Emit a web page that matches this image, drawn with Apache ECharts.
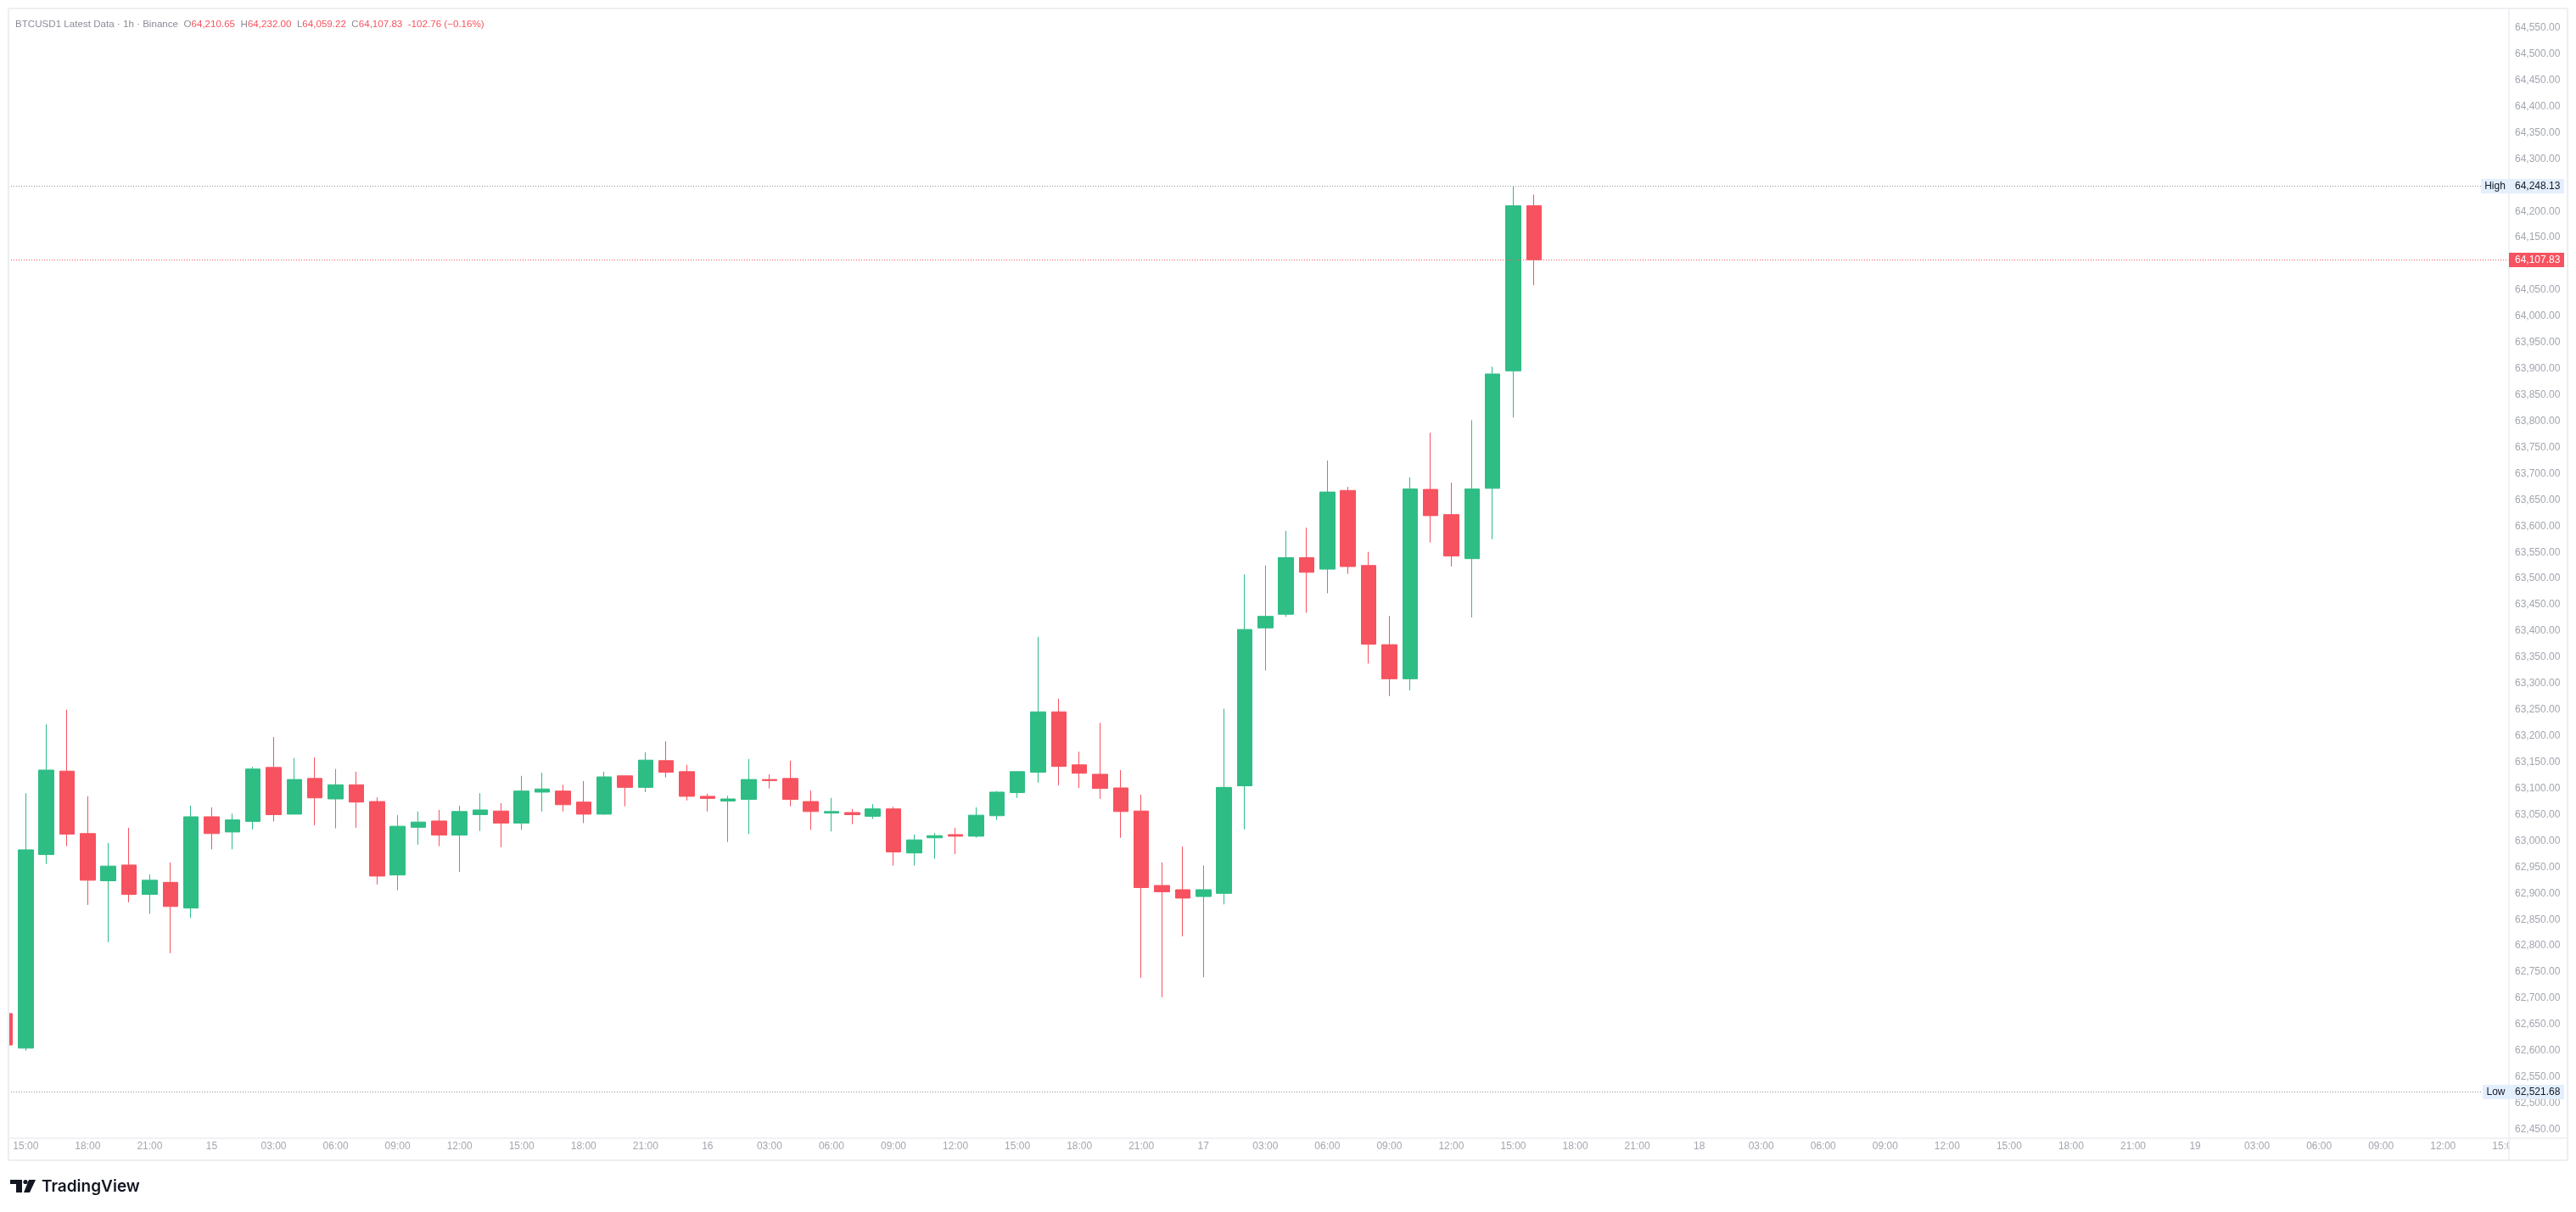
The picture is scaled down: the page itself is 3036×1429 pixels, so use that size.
<!DOCTYPE html>
<html>
<head>
<meta charset="utf-8">
<script src="https://cdn.jsdelivr.net/npm/echarts@6/dist/echarts.min.js"></script>
<style>
html,body{margin:0;padding:0;background:#ffffff;}
#c{width:3036px;height:1429px;}
</style>
</head>
<body>
<div id="c"></div>
<script>
// ---------------- DATA ----------------
const symbolName = 'BTCUSD1 Latest Data · 1h · Binance';
// hour offset (from day 14, 15:00) of the first candle
const firstHourOffset = -1;
const opens = [
  62671, 62605, 62974, 63133, 63014, 62924, 62954, 62898, 62921, 62872,
  63046, 63017, 63037, 63140, 63051, 63119, 63080, 63107, 63075, 62935,
  63026, 63038, 63011, 63050, 63057, 63034, 63093, 63095, 63074, 63051,
  63124, 63102, 63153, 63132, 63085, 63076, 63079, 63117, 63119, 63075,
  63053, 63054, 63047, 63061, 62977, 63006, 63012, 63009, 63048, 63092,
  63131, 63246, 63145, 63127, 63101, 63057, 62915, 62907, 62894, 62900,
  63105, 63406, 63432, 63540, 63518, 63668, 63525, 63374, 63309, 63670,
  63622, 63538, 63672, 63896, 64210.65
];
const closes = [
  62611, 62983, 63135, 63013, 62925, 62952, 62898, 62925, 62875, 63046,
  63014, 63040, 63137, 63050, 63117, 63082, 63107, 63074, 62933, 63028,
  63036, 63011, 63056, 63059, 63034, 63095, 63099, 63069, 63051, 63122,
  63102, 63154, 63131, 63085, 63081, 63080, 63117, 63115, 63079, 63056,
  63056, 63050, 63061, 62979, 63002, 63010, 63009, 63049, 63093, 63132,
  63246, 63142, 63129, 63100, 63056, 62911, 62903, 62891, 62907, 63102,
  63403, 63428, 63540, 63512, 63665, 63523, 63375, 63309, 63671, 63620,
  63543, 63671, 63890, 64210.59, 64107.83
];
const lows = [
  62521.68, 62600, 62956, 62990, 62878, 62807, 62883, 62861, 62786, 62853,
  62984, 62984, 63022, 63037, 63051, 63030, 63024, 63025, 62917, 62906,
  62993, 62990, 62941, 63019, 62988, 63021, 63056, 63056, 63034, 63050,
  63066, 63093, 63121, 63077, 63056, 62998, 63013, 63100, 63066, 63021,
  63018, 63032, 63042, 62953, 62953, 62966, 62975, 63006, 63040, 63082,
  63111, 63106, 63101, 63080, 63006, 62739, 62702, 62818, 62740, 62879,
  63022, 63325, 63427, 63435, 63472, 63509, 63338, 63276, 63287, 63569,
  63523, 63426, 63575, 63807, 64059.22
];
const highs = [
  62690, 63091, 63222, 63250, 63085, 62996, 63025, 62936, 62959, 63067,
  63064, 63052, 63141, 63198, 63158, 63159, 63137, 63132, 63083, 63049,
  63056, 63059, 63067, 63091, 63072, 63124, 63130, 63107, 63114, 63132,
  63125, 63169, 63190, 63145, 63090, 63086, 63156, 63127, 63153, 63096,
  63082, 63061, 63070, 63065, 63012, 63015, 63025, 63064, 63095, 63133,
  63389, 63271, 63170, 63225, 63135, 63088, 62959, 62989, 62953, 63252,
  63508, 63525, 63591, 63597, 63725, 63675, 63551, 63429, 63693, 63778,
  63683, 63802, 63904, 64248.13, 64232.00
];
const yTickMin = 62400, yTickMax = 64600, yTickStep = 50;
// x tick positions (hours after day 14, 15:00): every 3 hours
const xTickHours = [0, 3, 6, 9, 12, 15, 18, 21, 24, 27, 30, 33, 36, 39, 42, 45, 48, 51, 54, 57,
  60, 63, 66, 69, 72, 75, 78, 81, 84, 87, 90, 93, 96, 99, 102, 105, 108, 111, 114, 117, 120];
const startDay = 14, startHour = 15;

// ---------------- LAYOUT ----------------
const W = 3036, H = 1429;
const X0 = 30.3, STEP = 24.35;          // pixel of hour 0, pixels per hour
const PANE_L = 10, PANE_T = 10, PANE_R = 3026, PANE_B = 1368;
const AXIS_X = 2957, AXIS_Y = 1342;
const Y_TOP_PX = 1.77, Y_BOT_PX = 1362.6; // pixels of yTickMax / yTickMin
const FONT = '"Liberation Sans", Arial, sans-serif';
const UP = '#2ebd85', DOWN = '#f7525f';
const LABEL_GRAY = '#a3a6af';

const xMin = (PANE_L - X0) / STEP;
const xMax = (AXIS_X - X0) / STEP;

function pad(n){ return (n < 10 ? '0' : '') + n; }
const times = opens.map((_, i) => {
  const t = startHour + firstHourOffset + i;
  return (startDay + Math.floor(t / 24)) + ' ' + pad(((t % 24) + 24) % 24) + ':00';
});
const candleData = opens.map((o, i) => ({
  name: times[i],
  value: [firstHourOffset + i, o, closes[i], lows[i], highs[i]]
}));

const fmt = v => v.toLocaleString('en-US', {minimumFractionDigits: 2, maximumFractionDigits: 2});
const last = opens.length - 1;
const chg = closes[last] - closes[last - 1];
const pct = chg / closes[last - 1] * 100;
const chgText = (chg < 0 ? '-' : '+') + Math.abs(chg).toFixed(2) + ' (' + (pct < 0 ? '\u2212' : '+') + Math.abs(pct).toFixed(2) + '%)';

const highMark = Math.max(...highs);
const lowMark = Math.min(...lows);
const closeMark = closes[last];

const headerText =
  '{g|' + symbolName + '}  ' +
  '{g|O}{r|' + fmt(opens[last]) + '}  ' +
  '{g|H}{r|' + fmt(highs[last]) + '}  ' +
  '{g|L}{r|' + fmt(lows[last]) + '}  ' +
  '{g|C}{r|' + fmt(closes[last]) + '}  ' +
  '{r|' + chgText + '}';

const HDR_SIZE = 11.6;
const option = {
  animation: false,
  backgroundColor: '#ffffff',
  title: {
    left: 13, top: 18, text: headerText,
    textStyle: {
      fontSize: HDR_SIZE, fontFamily: FONT, fontWeight: 'normal', color: '#8a8d96',
      rich: {
        g: {color: '#8a8d96', fontSize: HDR_SIZE, fontFamily: FONT},
        r: {color: DOWN, fontSize: HDR_SIZE, fontFamily: FONT}
      }
    }
  },
  grid: {
    left: PANE_L, right: W - AXIS_X, top: Y_TOP_PX, bottom: H - Y_BOT_PX,
    containLabel: false
  },
  xAxis: {
    type: 'value', min: xMin, max: xMax,
    offset: AXIS_Y - Y_BOT_PX,
    axisLine: {show: false}, axisTick: {show: false}, splitLine: {show: false},
    axisLabel: {
      show: true, margin: 4, color: LABEL_GRAY, fontSize: 12, fontFamily: FONT,
      customValues: xTickHours,
      formatter: function (v) {
        if (Math.abs(v - Math.round(v)) > 1e-6) return '';
        const t = startHour + Math.round(v);
        const hod = ((t % 24) + 24) % 24;
        const day = startDay + Math.floor(t / 24);
        return hod === 0 ? String(day) : pad(hod) + ':00';
      }
    }
  },
  yAxis: {
    type: 'value', position: 'right', min: yTickMin, max: yTickMax, interval: yTickStep,
    scale: true,
    axisLine: {show: false}, axisTick: {show: false}, splitLine: {show: false},
    axisLabel: {
      margin: 7, color: LABEL_GRAY, fontSize: 12, fontFamily: FONT,
      formatter: function (v) {
        if (v <= yTickMin || v >= yTickMax) return '';
        return fmt(v);
      }
    }
  },
  series: [{
    type: 'candlestick',
    data: candleData,
    barWidth: 18,
    clip: true,
    itemStyle: {
      color: UP, color0: DOWN, borderColor: UP, borderColor0: DOWN, borderWidth: 1
    },
    markLine: {
      silent: true, symbol: ['none', 'none'], animation: false,
      label: {show: false},
      data: [
        {yAxis: highMark, lineStyle: {color: '#8f929b', type: [1, 2], width: 1}},
        {yAxis: closeMark, lineStyle: {color: DOWN, type: [1, 2], width: 1}},
        {yAxis: lowMark, lineStyle: {color: '#8f929b', type: [1, 2], width: 1}}
      ]
    }
  }]
};

const chart = echarts.init(document.getElementById('c'), null, {renderer: 'canvas'});
chart.setOption(option);

const yHigh = chart.convertToPixel({yAxisIndex: 0}, highMark);
const yClose = chart.convertToPixel({yAxisIndex: 0}, closeMark);
const yLow = chart.convertToPixel({yAxisIndex: 0}, lowMark);

const BOX_H = 17;
function box(x, yc, w, fill) {
  return {type: 'rect', z: 120, shape: {x: x, y: Math.round(yc - BOX_H / 2), width: w, height: BOX_H}, style: {fill: fill}, silent: true};
}
function txt(x, yc, s, color, align) {
  return {type: 'text', z: 121, x: x, y: yc, silent: true,
    style: {text: s, fill: color, font: '12px ' + FONT, textAlign: align || 'left', textVerticalAlign: 'middle', verticalAlign: 'middle'}};
}
function line(x1, y1, x2, y2, color, w) {
  return {type: 'line', z: 110, silent: true, shape: {x1: x1, y1: y1, x2: x2, y2: y2}, style: {stroke: color, lineWidth: w}};
}
const TAG_BG = '#e3effd';
const FRAME = '#eceef2';

const graphics = [
  // cover left of pane and overflow of the last x label
  {type: 'rect', z: 105, silent: true, shape: {x: 0, y: 0, width: PANE_L, height: H}, style: {fill: '#ffffff'}},
  {type: 'rect', z: 105, silent: true, shape: {x: AXIS_X + 1, y: AXIS_Y + 1, width: PANE_R - AXIS_X - 2, height: PANE_B - AXIS_Y - 2}, style: {fill: '#ffffff'}},
  // frame
  line(PANE_L, PANE_T, PANE_R, PANE_T, FRAME, 2),
  line(PANE_L, PANE_T, PANE_L, PANE_B, FRAME, 2),
  line(PANE_R, PANE_T, PANE_R, PANE_B, FRAME, 2),
  line(PANE_L, PANE_B, PANE_R, PANE_B, FRAME, 2),
  line(AXIS_X, PANE_T, AXIS_X, PANE_B, FRAME, 1.5),
  line(PANE_L, AXIS_Y, PANE_R, AXIS_Y, FRAME, 1.5),
  // High tag
  box(2924, yHigh, 33, TAG_BG), txt(2940.5, yHigh, 'High', '#131722', 'center'),
  box(AXIS_X, yHigh, 65, TAG_BG), txt(2964, yHigh, fmt(highMark), '#131722'),
  // Close tag
  box(AXIS_X, yClose, 65, DOWN), txt(2964, yClose, fmt(closeMark), '#ffffff'),
  // Low tag
  box(2926, yLow, 31, TAG_BG), txt(2941.5, yLow, 'Low', '#131722', 'center'),
  box(AXIS_X, yLow, 65, TAG_BG), txt(2964, yLow, fmt(lowMark), '#131722'),
  // TradingView logo
  {type: 'rect', z: 120, silent: true, shape: {x: 12, y: 1391, width: 14, height: 5}, style: {fill: '#131722'}},
  {type: 'rect', z: 120, silent: true, shape: {x: 19, y: 1391, width: 7, height: 15}, style: {fill: '#131722'}},
  {type: 'circle', z: 120, silent: true, shape: {cx: 30, cy: 1393.5, r: 2.6}, style: {fill: '#131722'}},
  {type: 'polygon', z: 120, silent: true, shape: {points: [[34, 1391], [42, 1391], [35, 1406], [28, 1406]]}, style: {fill: '#131722'}},
  {type: 'text', z: 120, silent: true, x: 49, y: 1399,
    style: {text: 'TradingView', fill: '#131722', font: '600 19px Inter, "Liberation Sans", Arial, sans-serif', textAlign: 'left', textVerticalAlign: 'middle', verticalAlign: 'middle'}}
];
chart.setOption({graphic: graphics});
</script>
</body>
</html>
